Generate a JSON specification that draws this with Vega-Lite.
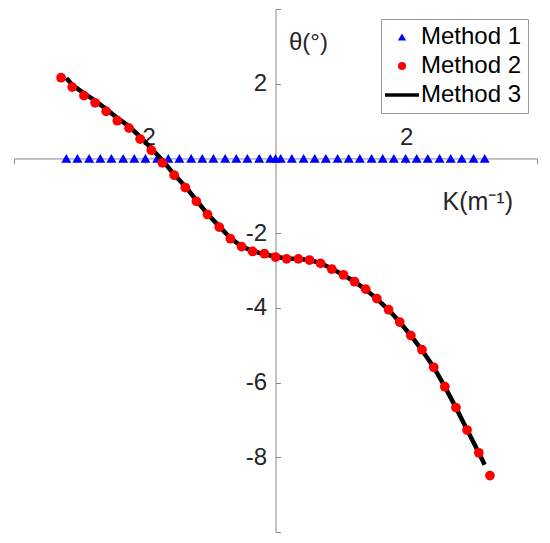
{
  "$schema": "https://vega.github.io/schema/vega-lite/v6.json",
  "width": 523,
  "height": 523,
  "autosize": "none",
  "padding": {"left": 14, "top": 9, "right": 13, "bottom": 11},
  "background": "white",
  "config": {"view": {"stroke": null}, "font": "Liberation Sans"},
  "data": {
    "values": [
      {"method": "Method 1", "K": -3.2, "theta": 0}, {"method": "Method 1", "K": -3.03, "theta": 0},
      {"method": "Method 1", "K": -2.85, "theta": 0}, {"method": "Method 1", "K": -2.68, "theta": 0},
      {"method": "Method 1", "K": -2.51, "theta": 0}, {"method": "Method 1", "K": -2.33, "theta": 0},
      {"method": "Method 1", "K": -2.16, "theta": 0}, {"method": "Method 1", "K": -1.99, "theta": 0},
      {"method": "Method 1", "K": -1.81, "theta": 0}, {"method": "Method 1", "K": -1.64, "theta": 0},
      {"method": "Method 1", "K": -1.47, "theta": 0}, {"method": "Method 1", "K": -1.29, "theta": 0},
      {"method": "Method 1", "K": -1.12, "theta": 0}, {"method": "Method 1", "K": -0.95, "theta": 0},
      {"method": "Method 1", "K": -0.77, "theta": 0}, {"method": "Method 1", "K": -0.6, "theta": 0},
      {"method": "Method 1", "K": -0.43, "theta": 0}, {"method": "Method 1", "K": -0.25, "theta": 0},
      {"method": "Method 1", "K": -0.08, "theta": 0}, {"method": "Method 1", "K": 0, "theta": 0},
      {"method": "Method 1", "K": 0.08, "theta": 0}, {"method": "Method 1", "K": 0.25, "theta": 0},
      {"method": "Method 1", "K": 0.43, "theta": 0}, {"method": "Method 1", "K": 0.6, "theta": 0},
      {"method": "Method 1", "K": 0.77, "theta": 0}, {"method": "Method 1", "K": 0.95, "theta": 0},
      {"method": "Method 1", "K": 1.12, "theta": 0}, {"method": "Method 1", "K": 1.29, "theta": 0},
      {"method": "Method 1", "K": 1.47, "theta": 0}, {"method": "Method 1", "K": 1.64, "theta": 0},
      {"method": "Method 1", "K": 1.81, "theta": 0}, {"method": "Method 1", "K": 1.99, "theta": 0},
      {"method": "Method 1", "K": 2.16, "theta": 0}, {"method": "Method 1", "K": 2.33, "theta": 0},
      {"method": "Method 1", "K": 2.51, "theta": 0}, {"method": "Method 1", "K": 2.68, "theta": 0},
      {"method": "Method 1", "K": 2.85, "theta": 0}, {"method": "Method 1", "K": 3.03, "theta": 0},
      {"method": "Method 1", "K": 3.2, "theta": 0},

      {"method": "Method 2", "K": -3.28, "theta": 2.16}, {"method": "Method 2", "K": -3.11, "theta": 1.91},
      {"method": "Method 2", "K": -2.93, "theta": 1.68}, {"method": "Method 2", "K": -2.76, "theta": 1.49},
      {"method": "Method 2", "K": -2.59, "theta": 1.26}, {"method": "Method 2", "K": -2.42, "theta": 1.01},
      {"method": "Method 2", "K": -2.24, "theta": 0.81}, {"method": "Method 2", "K": -2.07, "theta": 0.52},
      {"method": "Method 2", "K": -1.9, "theta": 0.22}, {"method": "Method 2", "K": -1.73, "theta": -0.12},
      {"method": "Method 2", "K": -1.55, "theta": -0.45}, {"method": "Method 2", "K": -1.38, "theta": -0.78},
      {"method": "Method 2", "K": -1.21, "theta": -1.15}, {"method": "Method 2", "K": -1.04, "theta": -1.5},
      {"method": "Method 2", "K": -0.86, "theta": -1.84}, {"method": "Method 2", "K": -0.69, "theta": -2.15},
      {"method": "Method 2", "K": -0.52, "theta": -2.36}, {"method": "Method 2", "K": -0.35, "theta": -2.49},
      {"method": "Method 2", "K": -0.17, "theta": -2.55}, {"method": "Method 2", "K": 0, "theta": -2.64},
      {"method": "Method 2", "K": 0.17, "theta": -2.69}, {"method": "Method 2", "K": 0.35, "theta": -2.69},
      {"method": "Method 2", "K": 0.52, "theta": -2.72}, {"method": "Method 2", "K": 0.69, "theta": -2.81},
      {"method": "Method 2", "K": 0.86, "theta": -2.96}, {"method": "Method 2", "K": 1.04, "theta": -3.12},
      {"method": "Method 2", "K": 1.21, "theta": -3.3}, {"method": "Method 2", "K": 1.38, "theta": -3.5},
      {"method": "Method 2", "K": 1.55, "theta": -3.75}, {"method": "Method 2", "K": 1.73, "theta": -4.05},
      {"method": "Method 2", "K": 1.9, "theta": -4.38}, {"method": "Method 2", "K": 2.07, "theta": -4.74},
      {"method": "Method 2", "K": 2.24, "theta": -5.12}, {"method": "Method 2", "K": 2.42, "theta": -5.59},
      {"method": "Method 2", "K": 2.59, "theta": -6.11}, {"method": "Method 2", "K": 2.76, "theta": -6.67},
      {"method": "Method 2", "K": 2.93, "theta": -7.27}, {"method": "Method 2", "K": 3.11, "theta": -7.88},
      {"method": "Method 2", "K": 3.28, "theta": -8.49},

      {"method": "Method 3", "K": -3.2, "theta": 2.15}, {"method": "Method 3", "K": -3.11, "theta": 1.97},
      {"method": "Method 3", "K": -2.93, "theta": 1.74}, {"method": "Method 3", "K": -2.76, "theta": 1.55},
      {"method": "Method 3", "K": -2.59, "theta": 1.32}, {"method": "Method 3", "K": -2.41, "theta": 1.07},
      {"method": "Method 3", "K": -2.24, "theta": 0.86}, {"method": "Method 3", "K": -2.07, "theta": 0.58},
      {"method": "Method 3", "K": -1.9, "theta": 0.27}, {"method": "Method 3", "K": -1.72, "theta": -0.07},
      {"method": "Method 3", "K": -1.56, "theta": -0.41}, {"method": "Method 3", "K": -1.38, "theta": -0.75},
      {"method": "Method 3", "K": -1.21, "theta": -1.12}, {"method": "Method 3", "K": -1.05, "theta": -1.47},
      {"method": "Method 3", "K": -0.86, "theta": -1.82}, {"method": "Method 3", "K": -0.69, "theta": -2.13},
      {"method": "Method 3", "K": -0.52, "theta": -2.35}, {"method": "Method 3", "K": -0.35, "theta": -2.48},
      {"method": "Method 3", "K": -0.18, "theta": -2.56}, {"method": "Method 3", "K": 0, "theta": -2.63},
      {"method": "Method 3", "K": 0.17, "theta": -2.68}, {"method": "Method 3", "K": 0.35, "theta": -2.69},
      {"method": "Method 3", "K": 0.52, "theta": -2.72}, {"method": "Method 3", "K": 0.69, "theta": -2.8},
      {"method": "Method 3", "K": 0.86, "theta": -2.95}, {"method": "Method 3", "K": 1.04, "theta": -3.12},
      {"method": "Method 3", "K": 1.21, "theta": -3.3}, {"method": "Method 3", "K": 1.38, "theta": -3.51},
      {"method": "Method 3", "K": 1.55, "theta": -3.76}, {"method": "Method 3", "K": 1.73, "theta": -4.05},
      {"method": "Method 3", "K": 1.9, "theta": -4.38}, {"method": "Method 3", "K": 2.07, "theta": -4.74},
      {"method": "Method 3", "K": 2.24, "theta": -5.13}, {"method": "Method 3", "K": 2.42, "theta": -5.59},
      {"method": "Method 3", "K": 2.59, "theta": -6.11}, {"method": "Method 3", "K": 2.76, "theta": -6.67},
      {"method": "Method 3", "K": 2.93, "theta": -7.26}, {"method": "Method 3", "K": 3.11, "theta": -7.88},
      {"method": "Method 3", "K": 3.2, "theta": -8.2}
    ]
  },
  "encoding": {
    "x": {
      "field": "K",
      "type": "quantitative",
      "scale": {"domain": [-4, 4], "nice": false, "zero": false},
      "axis": {
        "orient": "top",
        "offset": -149.43,
        "values": [-4, -2, 2, 4],
        "labelExpr": "abs(datum.value) == 4 ? '' : '' + datum.value",
        "labelFontSize": 24,
        "labelColor": "#262626",
        "labelPadding": 14,
        "labelFlush": false,
        "labelOverlap": false,
        "tickSize": -5,
        "tickColor": "#888888",
        "domainColor": "#888888",
        "grid": false,
        "title": "K(m⁻¹)",
        "titleFontSize": 25,
        "titleFontWeight": "normal",
        "titleColor": "#262626",
        "titleAngle": 0,
        "titleAlign": "left",
        "titleBaseline": "alphabetic",
        "titleX": 428,
        "titleY": 51
      }
    },
    "y": {
      "field": "theta",
      "type": "quantitative",
      "scale": {"domain": [-10, 4], "nice": false, "zero": false},
      "axis": {
        "orient": "left",
        "offset": -261.5,
        "values": [-10, -8, -6, -4, -2, 2, 4],
        "labelExpr": "datum.value == 4 || datum.value == -10 ? '' : '' + datum.value",
        "labelFontSize": 24,
        "labelColor": "#262626",
        "labelPadding": 14,
        "labelOverlap": false,
        "labelFlush": false,
        "tickSize": -5,
        "tickColor": "#888888",
        "domainColor": "#888888",
        "grid": false,
        "title": "θ(°)",
        "titleFontSize": 24,
        "titleFontWeight": "normal",
        "titleColor": "#262626",
        "titleAngle": 0,
        "titleAlign": "left",
        "titleBaseline": "alphabetic",
        "titleX": 13,
        "titleY": 40
      }
    },
    "color": {
      "field": "method",
      "type": "nominal",
      "scale": {"domain": ["Method 1", "Method 2", "Method 3"], "range": ["#0000ff", "#ff0000", "#000000"]},
      "legend": {
        "orient": "none",
        "legendX": 367,
        "legendY": 10,
        "title": null,
        "padding": 6,
        "strokeColor": "#999999",
        "fillColor": "white",
        "labelFontSize": 24,
        "labelColor": "#000000",
        "labelOffset": 7,
        "symbolOffset": 3,
        "symbolSize": 1156,
        "symbolStrokeWidth": 0,
        "rowPadding": 5,
        "encode": {
          "symbols": {
            "update": {
              "shape": {"signal": "datum.value == 'Method 1' ? 'triangle-up' : datum.value == 'Method 2' ? 'circle' : 'stroke'"},
              "size": {"signal": "datum.value == 'Method 3' ? 1156 : datum.value == 'Method 1' ? 70 : 64"},
              "fill": {"signal": "datum.value == 'Method 1' ? '#0000ff' : datum.value == 'Method 2' ? '#ff0000' : 'transparent'"},
              "stroke": {"signal": "datum.value == 'Method 3' ? '#000000' : 'transparent'"},
              "strokeWidth": {"signal": "datum.value == 'Method 3' ? 3.5 : 0"},
              "opacity": {"value": 1}
            }
          }
        }
      }
    }
  },
  "layer": [
    {
      "transform": [{"filter": "datum.method == 'Method 1'"}],
      "mark": {"type": "point", "shape": "triangle-up", "filled": true, "size": 100, "opacity": 1}
    },
    {
      "transform": [{"filter": "datum.method == 'Method 3'"}],
      "mark": {"type": "line", "strokeWidth": 4.5}
    },
    {
      "transform": [{"filter": "datum.method == 'Method 2'"}],
      "mark": {"type": "point", "shape": "circle", "filled": true, "size": 95, "opacity": 1}
    }
  ]
}
